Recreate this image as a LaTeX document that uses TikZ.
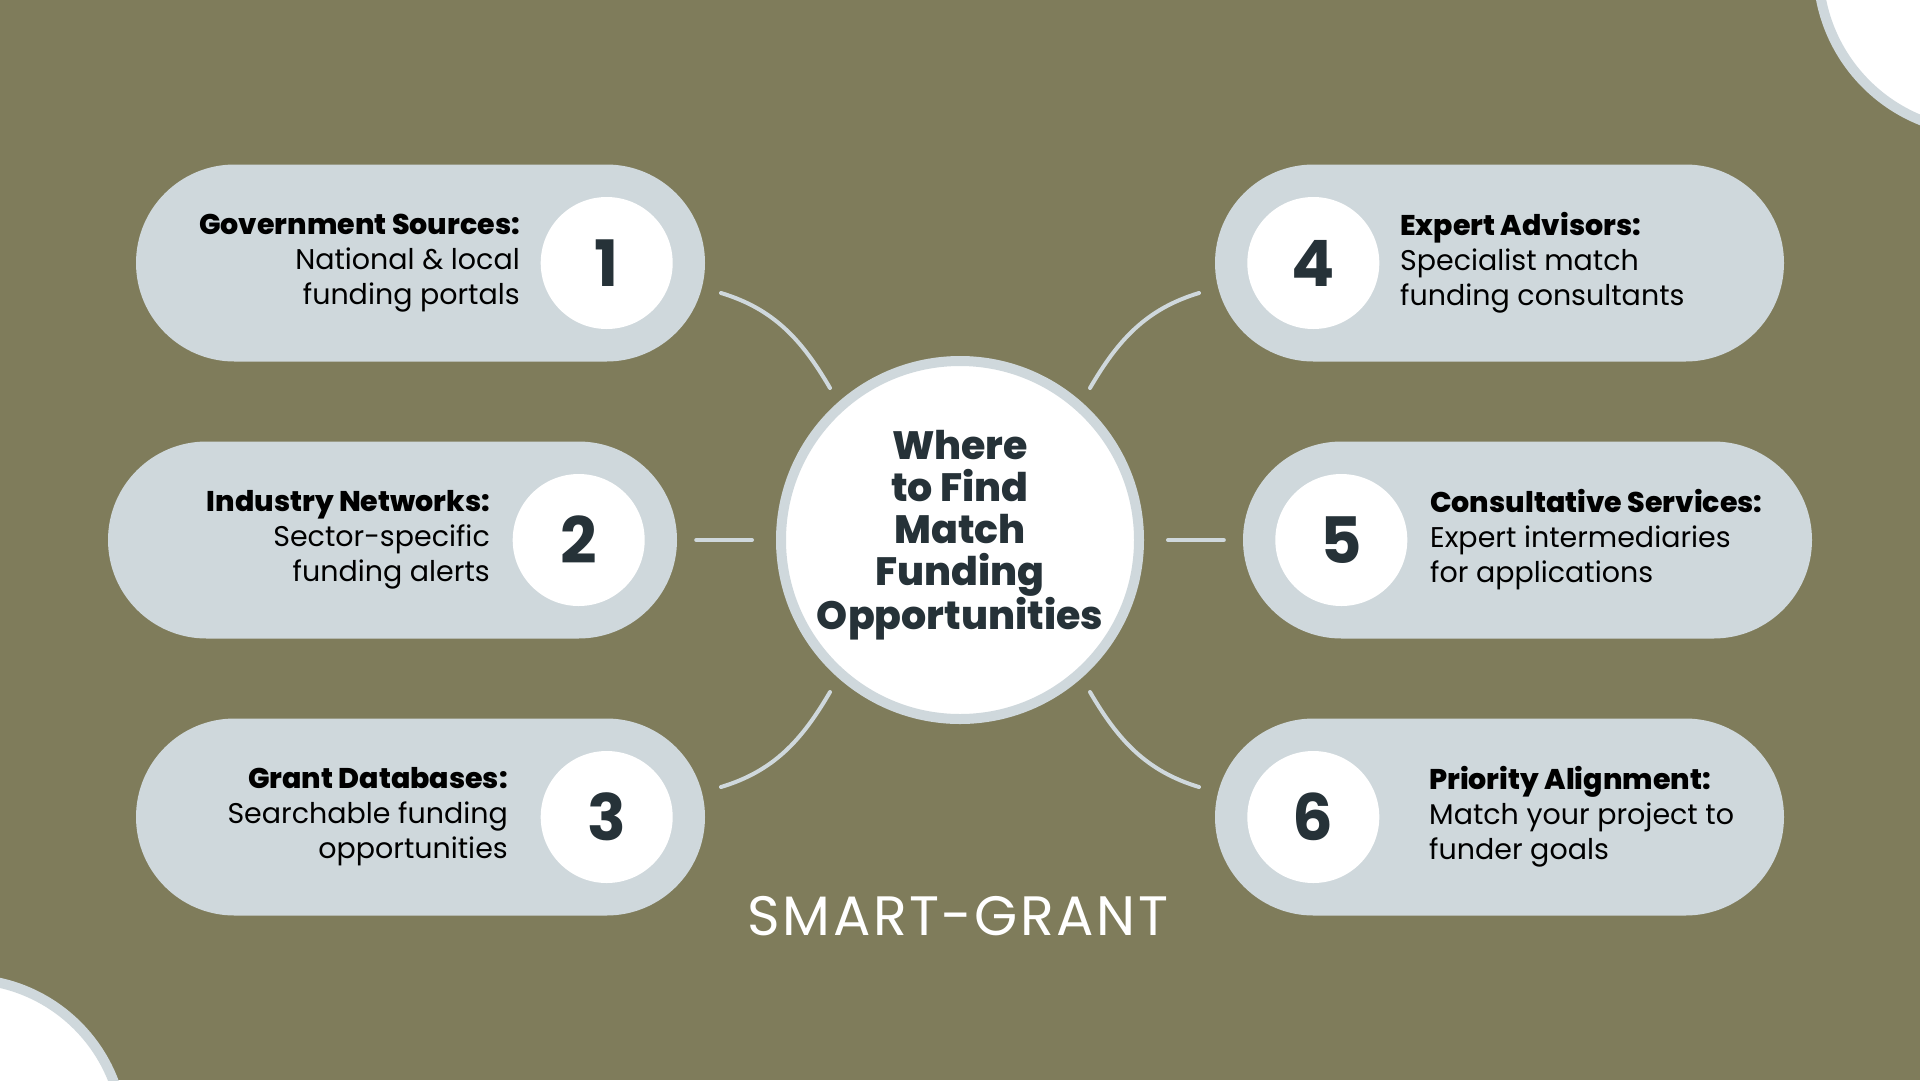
\documentclass[tikz,border=0pt]{standalone}
\usepackage{fontspec}
\setmainfont{Poppins}
\IfFontExistsTF{Poppins ExtraBold}
  {\newfontfamily\heavyfont{Poppins ExtraBold}}
  {\newfontfamily\heavyfont{Poppins}[FakeBold=1.5,BoldFont={* Bold}]}
\usepackage{tikz}
\usetikzlibrary{
  calc,
  positioning
}
\definecolor{olivebg}{RGB}{127,124,91}
\definecolor{mistgray}{RGB}{207,216,220}
\definecolor{slateink}{RGB}{38,50,56}
\newcommand{\headline}[1]{{\heavyfont #1}}
\tikzset{
  pill/.style={fill=mistgray,rounded corners=98.5pt,
    minimum width=569pt,minimum height=197pt,inner sep=0pt},
  badge/.style={circle,fill=white,minimum size=132pt,inner sep=0pt,
    text=slateink,font=\fontsize{64}{64}\selectfont\bfseries},
  info/.style={inner sep=0pt,text=black,
    font=\fontsize{28.5}{35}\selectfont},
  infoleft/.style={info,align=right},
  inforight/.style={info,align=left},
  hub/.style={circle,draw=mistgray,line width=10pt,fill=white,
    minimum size=358pt,inner sep=0pt},
  hubtitle/.style={align=center,text=slateink,inner sep=0pt,
    font=\fontsize{39.5}{42}\selectfont\heavyfont},
  corner/.style={draw=mistgray,line width=10pt,fill=white},
  link/.style={draw=mistgray,line width=4pt,line cap=round},
  brand/.style={text=white,inner sep=0pt,
    font=\fontsize{55.5}{55.5}\selectfont\addfontfeature{LetterSpace=4.5}}
}

\begin{document}
\begin{tikzpicture}[x=1pt,y=-1pt]
  \fill[olivebg] (0,0) rectangle (1920,1080);
  \useasboundingbox (0,0) rectangle (1920,1080);
  \clip (0,0) rectangle (1920,1080);
  % corner discs
  \draw[corner] (1982,-32) circle (164);
  \draw[corner] (-35,1138) circle (159);
  % centre
  \node[hub] (hub) at (960,540) {};
  \node[hubtitle] (title) at ($(hub)+(0,-5)$) {Where\\to Find\\Match\\Funding\\Opportunities};
  % left column
  \node[pill] (p1) at (420.5,263) {};
  \node[pill] (p2) at (392.5,540) {};
  \node[pill] (p3) at (420.5,817) {};
  \node[badge] (n1) at ($(p1.east)+(-98.5,0)$) {1};
  \node[badge] (n2) at ($(p2.east)+(-98.5,0)$) {2};
  \node[badge] (n3) at ($(p3.east)+(-98.5,0)$) {3};
  \node[infoleft,left=20.5pt of n1] (t1) {\headline{Government Sources:}\\National \& local\\funding portals};
  \node[infoleft,left=22.5pt of n2] (t2) {\headline{Industry Networks:}\\Sector-specific\\funding alerts};
  \node[infoleft,left=32.5pt of n3] (t3) {\headline{Grant Databases:}\\Searchable funding\\opportunities};
  % right column
  \node[pill] (p4) at (1499.5,263) {};
  \node[pill] (p5) at (1527.5,540) {};
  \node[pill] (p6) at (1499.5,817) {};
  \node[badge] (n4) at ($(p4.west)+(98.5,0)$) {4};
  \node[badge] (n5) at ($(p5.west)+(98.5,0)$) {5};
  \node[badge] (n6) at ($(p6.west)+(98.5,0)$) {6};
  \node[inforight,right=20.5pt of n4] (t4) {\headline{Expert Advisors:}\\Specialist match\\funding consultants};
  \node[inforight,right=22.5pt of n5] (t5) {\headline{Consultative Services:}\\Expert intermediaries\\for applications};
  \node[inforight,right=49.5pt of n6] (t6) {\headline{Priority Alignment:}\\Match your project to\\funder goals};
  % connectors
  \draw[link,shorten <=19pt,shorten >=24pt] (p2.east) -- (hub.west);
  \draw[link,shorten <=19pt,shorten >=24pt] (p5.west) -- (hub.east);
  \foreach \sx/\sy/\k in {1/1/a,-1/1/b,1/-1/c,-1/-1/d}{
    \coordinate (s\k) at ($(hub)+(-239*\sx,-247*\sy)$);
    \coordinate (e\k) at ($(hub)+(-130*\sx,-152*\sy)$);
    \draw[link] (s\k) .. controls ($(s\k)+(53*\sx,16*\sy)$)
      and ($(e\k)+(-28*\sx,-48*\sy)$) .. (e\k);
  }
  % brand
  \node[brand] (logo) at (958,916) {SMART-GRANT};
\end{tikzpicture}
\end{document}
